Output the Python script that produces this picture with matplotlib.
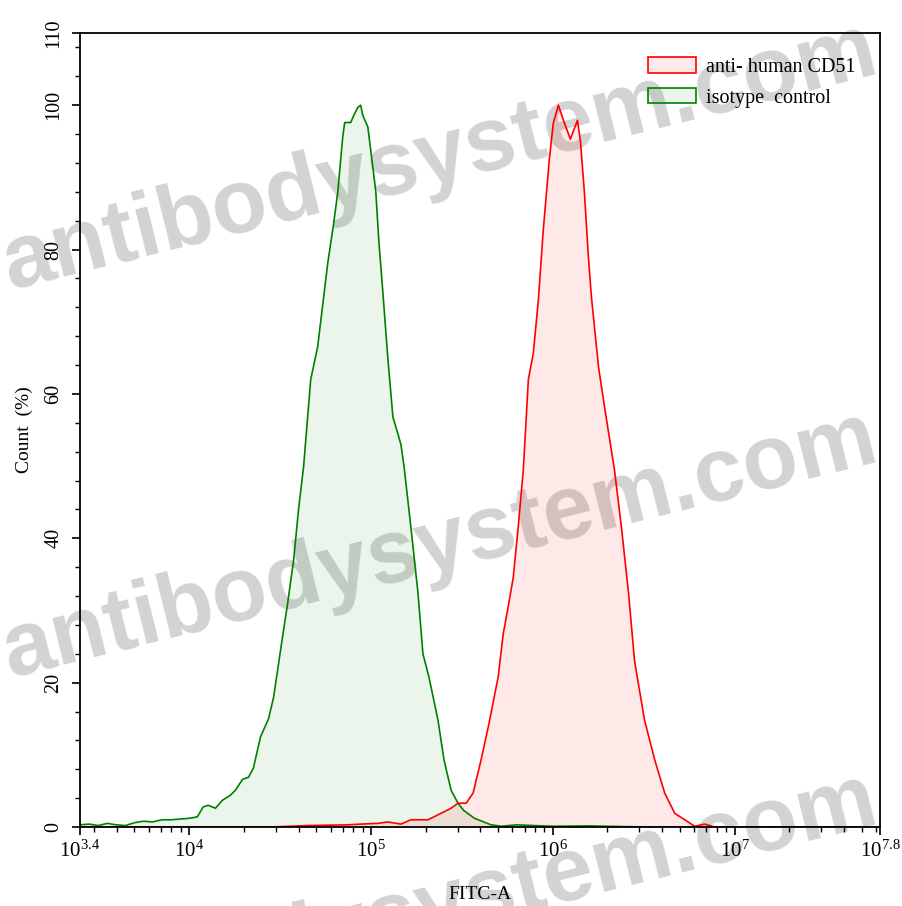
import numpy as np
import matplotlib
matplotlib.use("Agg")
import matplotlib.pyplot as plt
from matplotlib.ticker import LogLocator, NullFormatter, MultipleLocator
from matplotlib.patches import Patch

plt.rcParams["font.family"] = "Liberation Serif"
plt.rcParams["mathtext.fontset"] = "custom"
plt.rcParams["mathtext.rm"] = "Liberation Serif"
plt.rcParams["mathtext.it"] = "Liberation Serif"

# isotype control (green) - exponent of FITC-A and count %
iso_exp = [3.40, 3.45, 3.50, 3.55, 3.60, 3.65, 3.70, 3.75, 3.80, 3.85, 3.90,
           3.95, 4.00, 4.045, 4.078, 4.106, 4.145, 4.183, 4.227, 4.255, 4.294,
           4.327, 4.354, 4.393, 4.437, 4.465, 4.503, 4.542, 4.575, 4.602, 4.630,
           4.669, 4.707, 4.762, 4.795, 4.818, 4.845, 4.856, 4.889, 4.906, 4.928,
           4.944, 4.955, 4.983, 4.999, 5.027, 5.044, 5.066, 5.093, 5.121, 5.148,
           5.165, 5.182, 5.220, 5.259, 5.286, 5.319, 5.369, 5.402, 5.441, 5.479,
           5.51, 5.57, 5.661, 5.717, 5.80, 5.90, 6.00, 6.20, 6.40, 6.60, 7.00,
           7.40, 7.80]
iso_count = [0.3, 0.4, 0.2, 0.5, 0.3, 0.2, 0.6, 0.8, 0.7, 1.0, 1.0,
             1.1, 1.2, 1.4, 2.8, 3.0, 2.6, 3.7, 4.4, 5.1, 6.6,
             6.9, 8.2, 12.5, 15.0, 18.0, 24.5, 31.0, 37.0, 44.0, 50.0,
             62.0, 66.5, 78.0, 83.6, 88.0, 95.6, 97.6, 97.6, 98.6, 99.7,
             100.0, 98.6, 97.0, 93.8, 88.0, 81.0, 74.0, 65.0, 56.8, 54.5,
             53.0, 50.0, 41.5, 32.4, 24.0, 20.8, 14.8, 9.3, 5.1, 3.3,
             2.3, 1.2, 0.3, 0.1, 0.3, 0.2, 0.1, 0.15, 0.05, 0.0, 0.0,
             0.0, 0.0]

# anti- human CD51 (red)
cd51_exp = [3.40, 4.00, 4.448, 4.652, 4.873, 4.944, 5.038, 5.093, 5.165, 5.220,
            5.314, 5.386, 5.441, 5.479, 5.524, 5.562, 5.606, 5.650, 5.700, 5.728,
            5.755, 5.783, 5.810, 5.838, 5.866, 5.893, 5.921, 5.948, 5.981, 6.003,
            6.031, 6.059, 6.097, 6.136, 6.152, 6.174, 6.196, 6.213, 6.252, 6.285,
            6.340, 6.378, 6.417, 6.450, 6.505, 6.561, 6.616, 6.671, 6.726, 6.781,
            6.836, 6.892, 7.20, 7.80]
cd51_count = [0.0, 0.0, 0.0, 0.2, 0.3, 0.4, 0.5, 0.7, 0.4, 1.0,
              1.0, 1.9, 2.6, 3.3, 3.3, 4.7, 9.3, 14.4, 20.8, 26.8,
              30.5, 34.6, 41.5, 49.4, 62.0, 65.6, 73.0, 82.7, 92.4, 97.5,
              100.0, 97.9, 95.3, 97.9, 95.1, 88.0, 79.0, 73.4, 63.7, 58.2,
              49.4, 41.5, 32.4, 23.0, 14.8, 9.3, 4.7, 1.9, 1.0, 0.1,
              0.4, 0.0, 0.0, 0.0]

x_tick_exp = [3.4, 4, 5, 6, 7, 7.8]
x_tick_labels = [r"$10^{3.4}$", r"$10^{4}$", r"$10^{5}$", r"$10^{6}$",
                 r"$10^{7}$", r"$10^{7.8}$"]

fig = plt.figure(figsize=(9.02, 9.06), dpi=100)
ax = fig.add_axes([80 / 902, 79 / 906, 800 / 902, 794 / 906])
ax.patch.set_alpha(0)

# watermark behind the axes
for x0, y0 in [(10, 290), (10, 678), (10, 1040)]:
    fig.text(x0 / 902, 1 - y0 / 906, "antibodysystem.com", family="Liberation Sans",
             fontweight="bold", fontsize=65, color="#d3d3d3", rotation=14,
             rotation_mode="anchor", ha="left", va="baseline", zorder=-1)

iso_x = 10 ** np.array(iso_exp)
cd51_x = 10 ** np.array(cd51_exp)

ax.fill_between(iso_x, iso_count, color="green", alpha=0.08, lw=0)
ax.plot(iso_x, iso_count, color="#008000", lw=1.2)
ax.fill_between(cd51_x, cd51_count, color="red", alpha=0.09, lw=0)
ax.plot(cd51_x, cd51_count, color="#ff0000", lw=1.2)

ax.set_xscale("log")
ax.set_xlim(10 ** 3.4, 10 ** 7.8)
ax.set_ylim(0, 110)
ax.set_xticks([10 ** e for e in x_tick_exp])
ax.set_xticklabels(x_tick_labels, fontsize=15)
ax.xaxis.set_minor_locator(LogLocator(base=10, subs=np.arange(2, 10)))
ax.xaxis.set_minor_formatter(NullFormatter())
ax.set_yticks([0, 20, 40, 60, 80, 100, 110])
ax.yaxis.set_minor_locator(MultipleLocator(4))
for lab in ax.get_yticklabels():
    lab.set_rotation(90)
    lab.set_va("center")
    lab.set_fontsize(14.5)

ax.tick_params(which="major", length=6, width=1.2, direction="out")
ax.tick_params(axis="y", which="major", pad=6)
ax.tick_params(which="minor", length=3.5, width=1, direction="out")
for sp in ax.spines.values():
    sp.set_linewidth(1.3)

ax.set_xlabel("FITC-A", fontsize=14, labelpad=18)
ax.set_ylabel("Count  (%)", fontsize=14, labelpad=8)

handles = [Patch(facecolor=(1, 0, 0, 0.09), edgecolor="red", lw=1.2, label="anti- human CD51"),
           Patch(facecolor=(0, 0.5, 0, 0.08), edgecolor="green", lw=1.2, label="isotype  control")]
ax.legend(handles=handles, loc="upper right", frameon=False, fontsize=14.5,
          handlelength=2.4, handleheight=0.8, handletextpad=0.5,
          labelspacing=0.55, borderaxespad=0.8)

fig.savefig("out.png", dpi=100, facecolor="white")
